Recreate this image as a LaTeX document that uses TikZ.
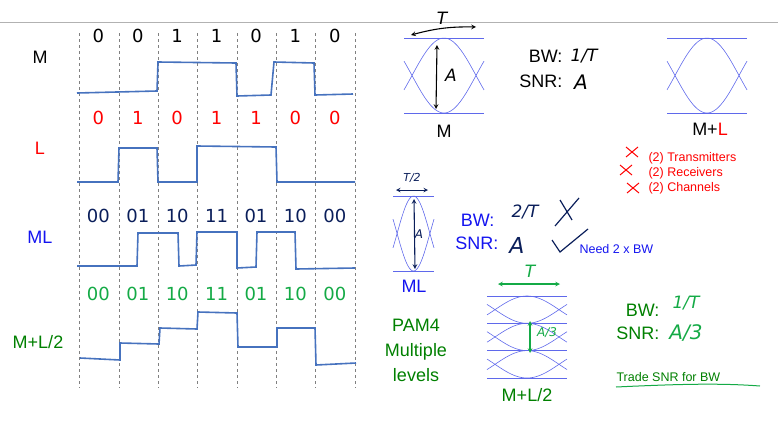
\documentclass[tikz,border=0pt]{standalone}
\usepackage{fontspec}
\setmainfont{Liberation Sans}
\newfontfamily\hand{DejaVu Sans}
\definecolor{wave}{RGB}{70,114,190}
\definecolor{eyec}{RGB}{95,105,235}
\definecolor{navy}{RGB}{10,30,90}
\definecolor{dgreen}{RGB}{0,128,0}
\definecolor{hgreen}{RGB}{20,170,70}
\definecolor{lblue}{RGB}{20,20,240}
\tikzset{
  wv/.style={draw=wave,line width=1.6pt},
  grid/.style={draw=gray,dashed,line width=0.5pt},
  lab/.style={font=\fontsize{18}{18}\selectfont},
  dig/.style={font=\hand\fontsize{18}{18}\selectfont},
  eyel/.style={draw=eyec,line width=0.6pt},
  hw/.style={font=\hand\itshape\fontsize{17}{17}\selectfont},
  small/.style={font=\fontsize{12.5}{12.5}\selectfont}
}
\newcommand\myeye[4]{% x0 y0 w h
  \pgfmathsetmacro\xm{#1+#3/2}\pgfmathsetmacro\ym{#2+#4/2}\pgfmathsetmacro\xe{#1+#3}
  \draw[eyel] plot[domain=#1:\xe,samples=40] (\x,{\ym-#4/2*cos(180*(\x-\xm)/(0.8*#3))});
  \draw[eyel] plot[domain=#1:\xe,samples=40] (\x,{\ym+#4/2*cos(180*(\x-\xm)/(0.8*#3))});
  \draw[eyel] (#1,#2) -- (\xe,#2) (#1,#2+#4) -- (\xe,#2+#4);}
\begin{document}
\begin{tikzpicture}[x=1pt,y=-1pt]
\useasboundingbox (0,0) rectangle (778,437);
\draw[gray!60,line width=0.6pt] (0,22) -- (778,22);
\foreach \x in {79,119,158,197,237,276,315,355} \draw[grid] (\x,33) -- (\x,388);
% labels
\node[lab] (lM) at (40,57) {M};
\node[lab,red] (lL) at (40,148) {L};
\node[lab,lblue] (lML) at (40,237) {ML};
\node[lab,dgreen] (lMLh) at (38,342) {M+L/2};
% digits
\foreach \d [count=\i] in {0,0,1,1,0,1,0} \node[dig] (dm\i) at (59+\i*39.4,36) {\d};
\foreach \d [count=\i] in {0,1,0,1,1,0,0} \node[dig,red] (dl\i) at (59+\i*39.4,118) {\d};
\foreach \d [count=\i] in {00,01,10,11,01,10,00} \node[dig,navy] (dml\i) at (59+\i*39.4,216) {\d};
\foreach \d [count=\i] in {00,01,10,11,01,10,00} \node[dig,hgreen] (dg\i) at (59+\i*39.4,294) {\d};
% waveforms
\draw[wv] (77,93) -- (157,91) -- (158,62) -- (236,63) -- (237,96) -- (271,95) -- (274,62) -- (314,63) -- (315,95) -- (353,94);
\draw[wv] (77,182) -- (118,182) -- (119,148) -- (157,148) -- (158,182) -- (197,182) -- (197,146) -- (276,147) -- (277,182) -- (355,182);
\draw[wv] (77,266) -- (137,266) -- (138,233) -- (178,233) -- (179,266) -- (196,265) -- (197,232) -- (237,232) -- (237,268) -- (256,267) -- (257,232) -- (295,232) -- (296,269) -- (355,268);
\draw[wv] (80,358) -- (120,360) -- (120,343) -- (159,344) -- (160,328) -- (197,329) -- (198,312) -- (237,313) -- (238,347) -- (277,347) -- (277,328) -- (315,328) -- (316,365) -- (356,363);
% eye M
\myeye{404}{38}{80}{75}
\node[lab] (eM) at (444,131) {M};
\draw[line width=1.1pt,<->,>=stealth] (437,45) -- (436,109);
\node[hw] (aM) at (451,75) {A};
\draw[line width=1.1pt,<->,>=stealth] (411,35) to[bend left=8] (476,27);
\node[hw] (tM) at (442,18) {T};
\node[lab,anchor=east] (bw1) at (566,56) {BW:};
\node[lab,anchor=east] (snr1) at (566,81) {SNR:};
\node[hw] (bw1v) at (584,56) {1/T};
\node[hw,font=\hand\itshape\fontsize{20}{20}\selectfont] (snr1v) at (581,82) {A};
% eye M+L
\myeye{667}{38}{80}{75}
\node[lab] (eML2) at (710,129) {M+\textcolor{red}{L}};
\foreach \y/\xx in {152/632,170/626,188/633}{
  \draw[red,line width=1pt] (\xx-6,\y-5) -- (\xx+6,\y+5) (\xx-6,\y+5) -- (\xx+6,\y-5);}
\node[small,red,anchor=west] (t1) at (645,158) {(2) Transmitters};
\node[small,red,anchor=west] (t2) at (645,173) {(2) Receivers};
\node[small,red,anchor=west] (t3) at (645,188) {(2) Channels};
% eye ML
\myeye{393}{196}{41}{75}
\draw[navy,line width=1.1pt,<->,>=stealth] (414,199) -- (415,269);
\node[hw,navy,font=\hand\itshape\fontsize{12}{12}\selectfont] (aML) at (419,234) {A};
\draw[navy,line width=1pt,<->,>=stealth] (396,190) -- (428,190);
\node[hw,navy,font=\hand\itshape\fontsize{11}{11}\selectfont] (tML) at (412,178) {T/2};
\node[lab,lblue] (eMLl) at (414,286) {ML};
\node[lab,lblue,anchor=east] (bw2) at (498,220) {BW:};
\node[lab,lblue,anchor=east] (snr2) at (502,243) {SNR:};
\node[hw,navy] (bw2v) at (525,212) {2/T};
\draw[navy,line width=1.2pt] (555,226) -- (579,198) (560,200) -- (572,220);
\node[hw,navy,font=\hand\itshape\fontsize{22}{22}\selectfont] (snr2v) at (517,245) {A};
\draw[navy,line width=1.2pt] (552,240) -- (560,252) -- (588,229);
\node[small,lblue,anchor=west] (need) at (576,249) {Need 2 x BW};
% eye M+L/2
\myeye{487}{296}{80}{27.3}
\myeye{487}{323.3}{80}{27.3}
\myeye{487}{350.6}{80}{27.4}
\draw[hgreen,line width=1.1pt,<->,>=stealth] (498,284) -- (560,284);
\node[hw,hgreen] (tG) at (530,271) {T};
\draw[hgreen,line width=1.1pt,<->,>=stealth] (530,321) -- (530,353);
\node[hw,hgreen,font=\hand\itshape\fontsize{12}{12}\selectfont] (aG) at (547,333) {A/3};
\node[lab,dgreen] (eG) at (527,395) {M+L/2};
\node[lab,dgreen,align=center,font=\fontsize{18}{25}\selectfont] (pam) at (416,350) {PAM4\\Multiple\\levels};
\node[lab,dgreen,anchor=east] (bw3) at (663,310) {BW:};
\node[lab,dgreen,anchor=east] (snr3) at (663,333) {SNR:};
\node[hw,hgreen] (bw3v) at (686,303) {1/T};
\node[hw,hgreen,font=\hand\itshape\fontsize{20}{20}\selectfont] (snr3v) at (686,333) {A/3};
\node[small,dgreen,anchor=west] (trade) at (613,377) {Trade SNR for BW};
\draw[hgreen,line width=1pt] (616,387) .. controls (680,384) and (720,383) .. (760,386);
\end{tikzpicture}
\end{document}
